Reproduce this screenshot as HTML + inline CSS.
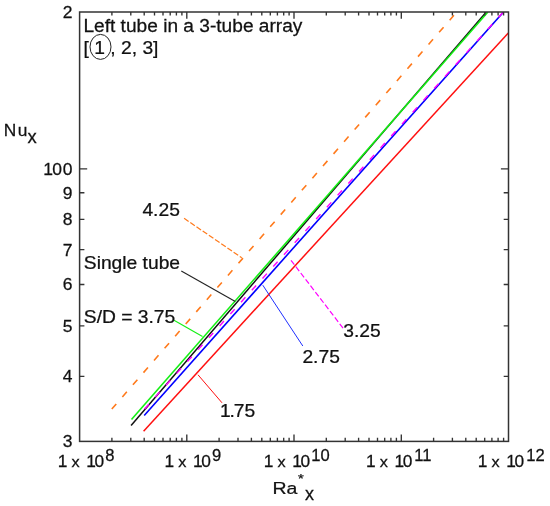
<!DOCTYPE html><html><head><meta charset="utf-8"><title>Left tube in a 3-tube array</title>
<style>html,body{margin:0;padding:0;background:#fff}svg{display:block}text{font-family:"Liberation Sans",Arial,sans-serif;fill:#111;stroke:#111;stroke-width:0.25px}</style></head><body>
<svg width="550" height="506" viewBox="0 0 550 506">
<rect width="550" height="506" fill="#fff"/>
<clipPath id="c"><rect x="79.6" y="12.0" width="428.9" height="429.4"/></clipPath>
<g clip-path="url(#c)" fill="none" stroke-linecap="butt">
<line x1="111.8" y1="409.1" x2="453.9" y2="15.3" stroke="#ff7a1c" stroke-width="1.6" stroke-dasharray="6.8 9.3"/>
<line x1="131.1" y1="425.5" x2="486.3" y2="12.0" stroke="#111111" stroke-width="1.5"/>
<line x1="144.2" y1="415.5" x2="503.5" y2="12.0" stroke="#0000ff" stroke-width="1.6"/>
<line x1="144.5" y1="409.0" x2="503.3" y2="12.0" stroke="#ff00ff" stroke-width="1.4" stroke-dasharray="6.5 9.5"/>
<line x1="131.5" y1="419.5" x2="487.9" y2="12.0" stroke="#14f014" stroke-width="1.6"/>
<line x1="143.6" y1="431.2" x2="508.3" y2="32.9" stroke="#ff1010" stroke-width="1.5"/>
</g>
<line x1="184.1" y1="218.3" x2="241.8" y2="257.8" stroke="#ff7a1c" stroke-width="1.2" stroke-dasharray="5.5 2"/>
<line x1="181.3" y1="270.9" x2="235.3" y2="301.4" stroke="#222" stroke-width="1.1"/>
<line x1="174.0" y1="320.3" x2="202.5" y2="336.4" stroke="#14f014" stroke-width="1.1"/>
<line x1="198.0" y1="374.8" x2="222.0" y2="402.8" stroke="#ff1010" stroke-width="1.0"/>
<line x1="262.8" y1="285.2" x2="302.8" y2="346.0" stroke="#2030ff" stroke-width="1.0"/>
<line x1="291.0" y1="260.3" x2="343.1" y2="328.2" stroke="#ff00ff" stroke-width="1.2" stroke-dasharray="5.5 2.5"/>
<rect x="79.6" y="12.0" width="428.9" height="429.4" fill="none" stroke="#333" stroke-width="1.5"/>
<path d="M111.9 441.4v-3.6M111.9 12.0v3.6M130.8 441.4v-3.6M130.8 12.0v3.6M144.2 441.4v-3.6M144.2 12.0v3.6M154.5 441.4v-3.6M154.5 12.0v3.6M163.0 441.4v-3.6M163.0 12.0v3.6M170.2 441.4v-3.6M170.2 12.0v3.6M176.4 441.4v-3.6M176.4 12.0v3.6M181.9 441.4v-3.6M181.9 12.0v3.6M186.8 441.4v-6.8M186.8 12.0v6.8M219.1 441.4v-3.6M219.1 12.0v3.6M238.0 441.4v-3.6M238.0 12.0v3.6M251.4 441.4v-3.6M251.4 12.0v3.6M261.8 441.4v-3.6M261.8 12.0v3.6M270.3 441.4v-3.6M270.3 12.0v3.6M277.4 441.4v-3.6M277.4 12.0v3.6M283.7 441.4v-3.6M283.7 12.0v3.6M289.1 441.4v-3.6M289.1 12.0v3.6M294.0 441.4v-6.8M294.0 12.0v6.8M326.3 441.4v-3.6M326.3 12.0v3.6M345.2 441.4v-3.6M345.2 12.0v3.6M358.6 441.4v-3.6M358.6 12.0v3.6M369.0 441.4v-3.6M369.0 12.0v3.6M377.5 441.4v-3.6M377.5 12.0v3.6M384.7 441.4v-3.6M384.7 12.0v3.6M390.9 441.4v-3.6M390.9 12.0v3.6M396.4 441.4v-3.6M396.4 12.0v3.6M401.3 441.4v-6.8M401.3 12.0v6.8M433.6 441.4v-3.6M433.6 12.0v3.6M452.4 441.4v-3.6M452.4 12.0v3.6M465.8 441.4v-3.6M465.8 12.0v3.6M476.2 441.4v-3.6M476.2 12.0v3.6M484.7 441.4v-3.6M484.7 12.0v3.6M491.9 441.4v-3.6M491.9 12.0v3.6M498.1 441.4v-3.6M498.1 12.0v3.6M503.6 441.4v-3.6M503.6 12.0v3.6M79.6 376.3h4.8M508.5 376.3h-4.8M79.6 325.8h4.8M508.5 325.8h-4.8M79.6 284.5h4.8M508.5 284.5h-4.8M79.6 249.6h4.8M508.5 249.6h-4.8M79.6 219.4h4.8M508.5 219.4h-4.8M79.6 192.7h4.8M508.5 192.7h-4.8M79.6 168.9h7.6M508.5 168.9h-7.6" stroke="#333" stroke-width="1.35" fill="none"/>
<text transform="translate(73.40 447.30) scale(1.060 1)" font-size="16.50" text-anchor="end" letter-spacing="0.8">3</text>
<text transform="translate(73.40 382.19) scale(1.060 1)" font-size="16.50" text-anchor="end" letter-spacing="0.8">4</text>
<text transform="translate(73.40 331.68) scale(1.060 1)" font-size="16.50" text-anchor="end" letter-spacing="0.8">5</text>
<text transform="translate(73.40 290.41) scale(1.060 1)" font-size="16.50" text-anchor="end" letter-spacing="0.8">6</text>
<text transform="translate(73.40 255.52) scale(1.060 1)" font-size="16.50" text-anchor="end" letter-spacing="0.8">7</text>
<text transform="translate(73.40 225.30) scale(1.060 1)" font-size="16.50" text-anchor="end" letter-spacing="0.8">8</text>
<text transform="translate(73.40 198.64) scale(1.060 1)" font-size="16.50" text-anchor="end" letter-spacing="0.8">9</text>
<text transform="translate(73.40 174.79) scale(1.060 1)" font-size="16.50" text-anchor="end" letter-spacing="0.8">1<tspan dx="-1.4">00</tspan></text>
<text transform="translate(73.40 17.90) scale(1.060 1)" font-size="16.50" text-anchor="end" letter-spacing="0.8">2</text>
<text transform="translate(57.70 466.90) scale(1.050 1)" font-size="16.50" text-anchor="start">1<tspan font-size="15.5" dx="-0.4"> x </tspan><tspan dx="2.0">1</tspan><tspan dx="-1.2">0</tspan><tspan dx="1.0" dy="-6.1" font-size="15.8">8</tspan></text>
<text transform="translate(164.50 466.90) scale(1.050 1)" font-size="16.50" text-anchor="start">1<tspan font-size="15.5" dx="-0.4"> x </tspan><tspan dx="2.0">1</tspan><tspan dx="-1.2">0</tspan><tspan dx="1.0" dy="-6.1" font-size="15.8">9</tspan></text>
<text transform="translate(263.70 466.90) scale(1.050 1)" font-size="16.50" text-anchor="start">1<tspan font-size="15.5" dx="-0.4"> x </tspan><tspan dx="2.0">1</tspan><tspan dx="-1.2">0</tspan><tspan dx="1.0" dy="-6.1" font-size="15.8">10</tspan></text>
<text transform="translate(366.00 466.90) scale(1.050 1)" font-size="16.50" text-anchor="start">1<tspan font-size="15.5" dx="-0.4"> x </tspan><tspan dx="2.0">1</tspan><tspan dx="-1.2">0</tspan><tspan dx="1.6" dy="-6.1" font-size="15.8">11</tspan></text>
<text transform="translate(477.70 466.90) scale(1.050 1)" font-size="16.50" text-anchor="start">1<tspan font-size="15.5" dx="-0.4"> x </tspan><tspan dx="2.0">1</tspan><tspan dx="-1.2">0</tspan><tspan dx="2.0" dy="-6.1" font-size="15.8">12</tspan></text>
<text transform="translate(3.80 136.00) scale(1.050 1)" font-size="16.50" text-anchor="start" letter-spacing="1.4">Nu<tspan dy="7" dx="-1.2" font-size="17.5">x</tspan></text>
<text transform="translate(272.50 493.50) scale(1.180 1)" font-size="16.50" text-anchor="start">Ra</text>
<text transform="translate(298.00 483.00) scale(1.100 1)" font-size="13.50" text-anchor="start">*</text>
<text transform="translate(305.00 499.60) scale(1.030 1)" font-size="17.50" text-anchor="start">x</text>
<text transform="translate(83.40 31.70) scale(1.093 1)" font-size="17.50" text-anchor="start">Left tube in a 3-tube array</text>
<text transform="translate(83.60 54.20) scale(1.100 1)" font-size="17.50" text-anchor="start">[ 1 , 2, 3]</text>
<ellipse cx="100.5" cy="46.9" rx="10.5" ry="12.5" fill="none" stroke="#222" stroke-width="1"/>
<text transform="translate(142.40 215.60) scale(1.100 1)" font-size="17.50" text-anchor="start">4.25</text>
<text transform="translate(83.80 269.30) scale(1.100 1)" font-size="17.50" text-anchor="start">Single tube</text>
<text transform="translate(83.80 323.30) scale(1.100 1)" font-size="17.50" text-anchor="start">S/D = 3.75</text>
<text transform="translate(220.00 417.20) scale(1.100 1)" font-size="17.50" text-anchor="start">1<tspan dx="-1.1">.</tspan><tspan dx="-0.9">75</tspan></text>
<text transform="translate(302.40 363.40) scale(1.100 1)" font-size="17.50" text-anchor="start">2.75</text>
<text transform="translate(343.20 336.80) scale(1.100 1)" font-size="17.50" text-anchor="start">3.25</text>
</svg></body></html>
